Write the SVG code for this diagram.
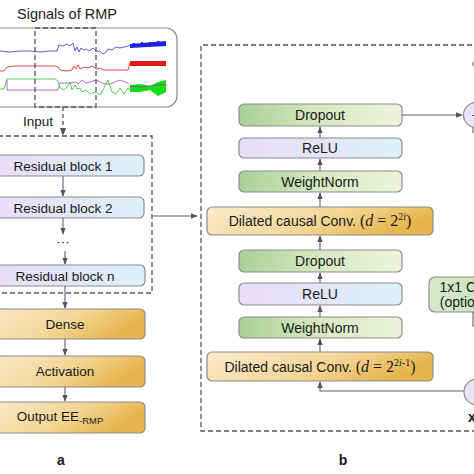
<svg xmlns="http://www.w3.org/2000/svg" width="474" height="474" viewBox="0 0 474 474">
<defs>
<linearGradient id="gPur" x1="0" y1="0" x2="1" y2="0"><stop offset="0" stop-color="#e9ddf5"/><stop offset="1" stop-color="#dcf0fb"/></linearGradient>
<linearGradient id="gOr" x1="0" y1="0" x2="1" y2="0.3"><stop offset="0" stop-color="#fbecd0"/><stop offset="0.6" stop-color="#f3d696"/><stop offset="1" stop-color="#e6b54e"/></linearGradient>
<linearGradient id="gGr" x1="0" y1="0" x2="1" y2="0"><stop offset="0" stop-color="#a9d098"/><stop offset="0.5" stop-color="#d8e9c2"/><stop offset="1" stop-color="#eef4dc"/></linearGradient>
<linearGradient id="gGr2" x1="0" y1="0" x2="1" y2="0"><stop offset="0" stop-color="#d7eacc"/><stop offset="1" stop-color="#c4dfb4"/></linearGradient>
<marker id="ah" viewBox="0 0 10 10" refX="9" refY="5" markerWidth="6" markerHeight="6" orient="auto"><path d="M0,1 L10,5 L0,9 z" fill="#4a5568"/></marker>
<style>
.bx{stroke:#8c8c8c;stroke-width:1.2}
.t{font-family:"Liberation Sans",Arial,sans-serif;font-size:13.5px;fill:#1a1a1a;text-anchor:middle}
.r{font-size:14px}
.m{font-family:"Liberation Serif","Times New Roman",serif;font-size:16px}
.c{stroke:#5a6475;stroke-width:1.1;fill:none}
.dash{stroke:#555;stroke-width:1.3;fill:none;stroke-dasharray:5,3}
</style>
</defs>

<!-- signals panel -->
<g id="signals">
<text class="t" x="67" y="19" style="font-size:14.5px">Signals of RMP</text>
<rect x="-20" y="28" width="197" height="79" rx="11" fill="#fff" stroke="#8c8c8c" stroke-width="1.2"/>
<polyline fill="none" stroke="#3030d0" stroke-width="0.8" points="0,51 10,52 20,51 30,51 40,52 50,51 57,51 59,45 63,46 67,44 70,46 73,43 75,51 77,47 79,52 81,48 84,50 86,49 89,51 93,48 96,51 100,51 103,54 106,52 108,49 112,50 116,47 120,48 124,47 128,46 130,45"/>
<path d="M130,44 L166,41 L166,46 L130,48 z" fill="#2020e0"/>
<polyline fill="none" stroke="#2020e0" stroke-width="1" points="130,46 134,43 138,47 142,42 146,46 150,42 154,45 158,41 162,44 166,41"/>
<polyline fill="none" stroke="#d02020" stroke-width="0.8" points="0,71 4,71 7,67 15,66 25,66 35,66 45,66 55,66 58,67 60,70 66,71 72,70 74,66 76,69 78,65 80,69 84,67 88,68 92,66 96,69 100,68 104,70 110,70 120,70 128,70 130,63"/>
<path d="M130,61 L166,61 L166,66 L130,66 z" fill="#e01818"/>
<polyline fill="none" stroke="#b040c0" stroke-width="0.8" points="7,80 7,90 20,90 35,90 45,90 55,90 58,90 60,83 70,83 76,82 78,84 82,80 86,83 90,82 96,80 100,82 105,84 110,84 115,82 120,80 125,82 128,83"/>
<polyline fill="none" stroke="#30c030" stroke-width="0.8" points="0,89 4,89 7,79 20,79 35,79 45,79 55,79 58,81 60,88 64,90 68,86 70,82 72,90 75,85 77,89 80,88 82,92 86,90 90,94 95,92 100,95 104,88 108,80 112,92 116,94 120,88 124,94 128,88 130,90"/>
<path d="M130,85 L140,84 L150,86 L158,82 L166,80 L166,92 L158,96 L150,90 L140,92 L130,92 z" fill="#10e010"/>
<polyline fill="none" stroke="#a040b0" stroke-width="0.8" points="130,86 140,87 150,86 160,85 166,84"/>
<rect x="35" y="28" width="61" height="79" class="dash"/>
</g>

<!-- left column -->
<g id="left-frame"><rect x="-10" y="136" width="162" height="157" class="dash"/></g>
<g id="res1"><rect x="-20" y="155" width="164" height="21" rx="5" fill="url(#gPur)" class="bx"/><text class="t" x="63" y="170.5">Residual block 1</text></g>
<g id="res2"><rect x="-20" y="197" width="164" height="21" rx="5" fill="url(#gPur)" class="bx"/><text class="t" x="63" y="212.5">Residual block 2</text></g>
<g id="dots"><text class="t" x="63" y="246">···</text></g>
<g id="resn"><rect x="-20" y="265" width="165" height="21" rx="5" fill="url(#gPur)" class="bx"/><text class="t" x="65" y="280.5">Residual block n</text></g>
<g id="dense"><rect x="-20" y="309" width="165" height="30" rx="5" fill="url(#gOr)" class="bx"/><text class="t" x="65" y="329">Dense</text></g>
<g id="activation"><rect x="-20" y="356" width="165" height="31" rx="5" fill="url(#gOr)" class="bx"/><text class="t" x="65" y="376">Activation</text></g>
<g id="output"><rect x="-20" y="402" width="165" height="31" rx="5" fill="url(#gOr)" class="bx"/><text class="t" x="60" y="421">Output EE<tspan font-size="9.5" dy="3">-RMP</tspan></text></g>
<text class="t" x="61" y="465" style="font-weight:bold;font-size:14px">a</text>

<!-- right frame -->
<g id="right-frame"><path d="M480,45 L201,45 L201,431 L480,431" class="dash"/></g>
<g id="dropout1"><rect x="239" y="104" width="163" height="22" rx="5" fill="url(#gGr)" class="bx"/><text class="t r" x="320" y="120">Dropout</text></g>
<g id="relu1"><rect x="239" y="138" width="163" height="20" rx="5" fill="url(#gPur)" class="bx"/><text class="t r" x="320" y="153">ReLU</text></g>
<g id="wn1"><rect x="239" y="171" width="163" height="21" rx="5" fill="url(#gGr)" class="bx"/><text class="t r" x="320" y="186.5">WeightNorm</text></g>
<g id="conv1"><rect x="207" y="207" width="226" height="28" rx="5" fill="url(#gOr)" class="bx"/><text class="t r" x="320" y="226">Dilated causal Conv. <tspan class="m">(<tspan font-style="italic">d</tspan> = 2<tspan font-size="10" dy="-6">2<tspan font-style="italic">i</tspan></tspan><tspan dy="6">)</tspan></tspan></text></g>
<g id="dropout2"><rect x="239" y="250" width="163" height="22" rx="5" fill="url(#gGr)" class="bx"/><text class="t r" x="320" y="266">Dropout</text></g>
<g id="relu2"><rect x="239" y="283" width="163" height="22" rx="5" fill="url(#gPur)" class="bx"/><text class="t r" x="320" y="299">ReLU</text></g>
<g id="wn2"><rect x="239" y="317" width="163" height="21" rx="5" fill="url(#gGr)" class="bx"/><text class="t r" x="320" y="332.5">WeightNorm</text></g>
<g id="conv2"><rect x="207" y="352" width="226" height="29" rx="5" fill="url(#gOr)" class="bx"/><text class="t r" x="320" y="371.5">Dilated causal Conv. <tspan class="m">(<tspan font-style="italic">d</tspan> = 2<tspan font-size="10" dy="-6">2<tspan font-style="italic">i</tspan>-1</tspan><tspan dy="6">)</tspan></tspan></text></g>
<g id="conv1x1"><rect x="429" y="277" width="80" height="35" rx="6" fill="url(#gGr2)" class="bx"/><text class="t r" x="469" y="292">1x1 Conv</text><text class="t r" x="469" y="307">(optional)</text></g>
<g id="add"><circle cx="476" cy="115" r="12.5" fill="#e6e6f8" stroke="#8c8c8c" stroke-width="1.2"/><text class="t" x="476" y="120">+</text></g>
<g id="xin"><circle cx="477" cy="392" r="13" fill="#e6e6f8" stroke="#8c8c8c" stroke-width="1.2"/><text class="t" x="472" y="422" style="font-weight:bold;font-size:14px">x</text></g>
<text class="t" x="343" y="465" style="font-weight:bold;font-size:14px">b</text>

<g id="connectors">
<line x1="63" y1="107" x2="63" y2="135" class="dash" marker-end="url(#ah)" style="stroke-dasharray:4,3"/>
<text class="t" x="38" y="126">Input</text>
<line x1="63" y1="176" x2="63" y2="196" class="c" marker-end="url(#ah)"/>
<line x1="63" y1="218" x2="63" y2="234" class="c" marker-end="url(#ah)"/>
<line x1="65" y1="251" x2="65" y2="264" class="c" marker-end="url(#ah)"/>
<line x1="65" y1="286" x2="65" y2="308" class="c" marker-end="url(#ah)"/>
<line x1="65" y1="339" x2="65" y2="355" class="c" marker-end="url(#ah)"/>
<line x1="65" y1="387" x2="65" y2="401" class="c" marker-end="url(#ah)"/>
<line x1="153" y1="216" x2="197" y2="216" class="c" marker-end="url(#ah)"/>
<line x1="320" y1="352" x2="320" y2="339" class="c" marker-end="url(#ah)"/>
<line x1="320" y1="317" x2="320" y2="306" class="c" marker-end="url(#ah)"/>
<line x1="320" y1="283" x2="320" y2="273" class="c" marker-end="url(#ah)"/>
<line x1="320" y1="250" x2="320" y2="236" class="c" marker-end="url(#ah)"/>
<line x1="320" y1="207" x2="320" y2="193" class="c" marker-end="url(#ah)"/>
<line x1="320" y1="171" x2="320" y2="159" class="c" marker-end="url(#ah)"/>
<line x1="320" y1="138" x2="320" y2="127" class="c" marker-end="url(#ah)"/>
<line x1="402" y1="115" x2="462" y2="115" class="c" marker-end="url(#ah)"/>
<polyline points="464,391 320,391 320,382" class="c" marker-end="url(#ah)"/>
<line x1="473" y1="62" x2="473" y2="66" class="c"/>
<line x1="473" y1="128" x2="473" y2="133" class="c"/>
<line x1="473" y1="312" x2="473" y2="327" class="c"/>
</g>
</svg>
